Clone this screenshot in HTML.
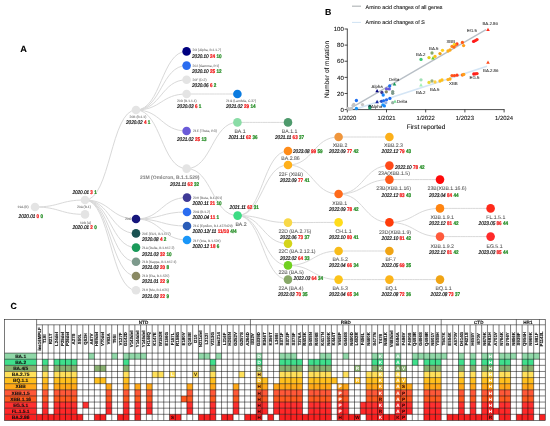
<!DOCTYPE html>
<html lang="en"><head><meta charset="utf-8"><title>SARS-CoV-2 variant evolution</title>
<style>
html,body{margin:0;padding:0;background:#fff;}
body{width:550px;height:426px;overflow:hidden;}
svg{display:block;font-family:"Liberation Sans", Arial, sans-serif;text-rendering:geometricPrecision;}
</style></head><body>
<svg width="550" height="426" viewBox="0 0 550 426" stroke-width="0.08">
<rect width="550" height="426" fill="#fff"/>
<g fill="none" stroke="#d9d9d9" stroke-width="1.0">
<path d="M35,207C60.0,207 60.0,200 85,200"/>
<path d="M35,207C60.0,207 60.0,214.4 85,214.4"/>
<path d="M85,200C110.5,200 110.5,110 136,110"/>
<path d="M85,200C110.5,200 110.5,219 136,219"/>
<path d="M85,200C110.5,200 110.5,233.4 136,233.4"/>
<path d="M85,200C110.5,200 110.5,247.6 136,247.6"/>
<path d="M85,200C110.5,200 110.5,261.8 136,261.8"/>
<path d="M85,200C110.5,200 110.5,276 136,276"/>
<path d="M85,200C110.5,200 110.5,290.3 136,290.3"/>
<path d="M136,110C161.3,110 161.3,51.4 186.6,51.4"/>
<path d="M136,110C161.3,110 161.3,65.6 186.6,65.6"/>
<path d="M136,110C161.3,110 161.3,79.8 186.6,79.8"/>
<path d="M136,110C161.3,110 161.3,94 186.6,94"/>
<path d="M136,110C161.3,110 161.3,131 186.6,131"/>
<path d="M136,110C161.3,110 161.3,168.6 186.6,168.6"/>
<path d="M186.6,94C212.0,94 212.0,94 237.4,94"/>
<path d="M136,219C161.5,219 161.5,197.6 187,197.6"/>
<path d="M136,219C161.5,219 161.5,212 187,212"/>
<path d="M136,219C161.5,219 161.5,226 187,226"/>
<path d="M136,219C161.5,219 161.5,240 187,240"/>
<path d="M186.6,168.6C212.0,168.6 212.0,122.4 237.4,122.4"/>
<path d="M186.6,168.6C212.1,168.6 212.1,215.6 237.6,215.6"/>
<path d="M237.4,122.4C262.7,122.4 262.7,122.4 288,122.4"/>
<path d="M237.6,215.6C262.8,215.6 262.8,151 288,151"/>
<path d="M237.6,215.6C262.8,215.6 262.8,165 288,165"/>
<path d="M237.6,215.6C262.8,215.6 262.8,222.6 288,222.6"/>
<path d="M237.6,215.6C262.8,215.6 262.8,243.6 288,243.6"/>
<path d="M237.6,215.6C262.8,215.6 262.8,265.4 288,265.4"/>
<path d="M237.6,215.6C262.8,215.6 262.8,279.6 288,279.6"/>
<path d="M288,165C313.3,165 313.3,137 338.6,137"/>
<path d="M288,165C313.3,165 313.3,194 338.6,194"/>
<path d="M338.6,137C364.0,137 364.0,137 389.4,137"/>
<path d="M338.6,194C364.0,194 364.0,165.6 389.4,165.6"/>
<path d="M338.6,194C364.0,194 364.0,179.6 389.4,179.6"/>
<path d="M338.6,194C364.0,194 364.0,222.4 389.4,222.4"/>
<path d="M389.4,179.6C414.7,179.6 414.7,179.6 440,179.6"/>
<path d="M389.4,222.4C414.7,222.4 414.7,208.4 440,208.4"/>
<path d="M389.4,222.4C414.7,222.4 414.7,236.6 440,236.6"/>
<path d="M440,208.4C465.3,208.4 465.3,208.4 490.6,208.4"/>
<path d="M440,236.6C465.3,236.6 465.3,236.6 490.6,236.6"/>
<path d="M288,222.6C313.3,222.6 313.3,222.4 338.6,222.4"/>
<path d="M288,265.4C313.3,265.4 313.3,251 338.6,251"/>
<path d="M288,265.4C313.3,265.4 313.3,279.6 338.6,279.6"/>
<path d="M338.6,251C364.0,251 364.0,251 389.4,251"/>
<path d="M338.6,279.6C364.0,279.6 364.0,279.6 389.4,279.6"/>
<path d="M389.4,279.6C414.7,279.6 414.7,279.6 440,279.6"/>
</g>
<g>
<circle cx="35" cy="207" r="4.3" fill="#e4e4e4"/>
<circle cx="85" cy="200" r="4.3" fill="#e4e4e4"/>
<circle cx="85" cy="214.4" r="4.3" fill="#e4e4e4"/>
<circle cx="136" cy="110" r="4.3" fill="#e4e4e4"/>
<circle cx="186.6" cy="51.4" r="4.3" fill="#00007f"/>
<circle cx="186.6" cy="65.6" r="4.3" fill="#2a6cf0"/>
<circle cx="186.6" cy="79.8" r="4.3" fill="#e4e4e4"/>
<circle cx="186.6" cy="94" r="4.3" fill="#e4e4e4"/>
<circle cx="237.4" cy="94" r="4.3" fill="#0a7be0"/>
<circle cx="186.6" cy="131" r="4.3" fill="#6a5ad8"/>
<circle cx="186.6" cy="168.6" r="4.3" fill="#e4e4e4"/>
<circle cx="136" cy="219" r="4.3" fill="#16167c"/>
<circle cx="136" cy="233.4" r="4.3" fill="#1a5252"/>
<circle cx="136" cy="247.6" r="4.3" fill="#1a9a5a"/>
<circle cx="136" cy="261.8" r="4.3" fill="#7d9a8c"/>
<circle cx="136" cy="276" r="4.3" fill="#8a8a64"/>
<circle cx="136" cy="290.3" r="4.3" fill="#e4e4e4"/>
<circle cx="187" cy="197.6" r="4.3" fill="#3f3a96"/>
<circle cx="187" cy="212" r="4.3" fill="#2a6cf0"/>
<circle cx="187" cy="226" r="4.3" fill="#2a5cb8"/>
<circle cx="187" cy="240" r="4.3" fill="#1a96f8"/>
<circle cx="237.4" cy="122.4" r="4.3" fill="#8adca6"/>
<circle cx="288" cy="122.4" r="4.3" fill="#4e9a6c"/>
<circle cx="237.6" cy="215.6" r="4.3" fill="#3ddc84"/>
<circle cx="288" cy="151" r="4.3" fill="#ff8c1a"/>
<circle cx="288" cy="165" r="4.3" fill="#ffb01a"/>
<circle cx="288" cy="222.6" r="4.3" fill="#f8d848"/>
<circle cx="288" cy="243.6" r="4.3" fill="#d4d41a"/>
<circle cx="288" cy="265.4" r="4.3" fill="#70d020"/>
<circle cx="288" cy="279.6" r="4.3" fill="#88a868"/>
<circle cx="338.6" cy="137" r="4.3" fill="#f0963c"/>
<circle cx="389.4" cy="137" r="4.3" fill="#fcb01a"/>
<circle cx="338.6" cy="194" r="4.3" fill="#ff6a1a"/>
<circle cx="389.4" cy="165.6" r="4.3" fill="#ff4a1a"/>
<circle cx="389.4" cy="179.6" r="4.3" fill="#ff5a1a"/>
<circle cx="440" cy="179.6" r="4.3" fill="#ff0a0a"/>
<circle cx="389.4" cy="222.4" r="4.3" fill="#ff3c0a"/>
<circle cx="440" cy="208.4" r="4.3" fill="#ff8410"/>
<circle cx="490.6" cy="208.4" r="4.3" fill="#ff2a1a"/>
<circle cx="440" cy="236.6" r="4.3" fill="#ff5a3c"/>
<circle cx="490.6" cy="236.6" r="4.3" fill="#ff2a2a"/>
<circle cx="338.6" cy="222.4" r="4.3" fill="#ffdc1a"/>
<circle cx="338.6" cy="251" r="4.3" fill="#f8bc1a"/>
<circle cx="389.4" cy="251" r="4.3" fill="#f0a414"/>
<circle cx="338.6" cy="279.6" r="4.3" fill="#fcc41a"/>
<circle cx="389.4" cy="279.6" r="4.3" fill="#fcb41a"/>
<circle cx="440" cy="279.6" r="4.3" fill="#f0a414"/>
</g>
<text x="17.6" y="208.15" font-size="3.3" fill="#7a7a7a" stroke="#7a7a7a" text-anchor="start">19A (B)</text>
<text transform="translate(18.6,217.90) scale(0.87,1)" font-size="5.3" fill="#111" stroke="#111" stroke-width="0.22"><tspan font-style="italic">2020.01</tspan> <tspan font-weight="bold" fill="#f01414" stroke="#f01414">0</tspan> <tspan font-weight="bold" fill="#1f8a1f" stroke="#1f8a1f">0</tspan></text>
<text transform="translate(72.4,193.90) scale(0.87,1)" font-size="5.3" fill="#111" stroke="#111" stroke-width="0.22"><tspan font-style="italic">2020.01</tspan> <tspan font-weight="bold" fill="#f01414" stroke="#f01414">3</tspan> <tspan font-weight="bold" fill="#1f8a1f" stroke="#1f8a1f">1</tspan></text>
<text x="77" y="208.15" font-size="3.3" fill="#7a7a7a" stroke="#7a7a7a" text-anchor="start">20A (B.1)</text>
<text x="80" y="223.55" font-size="3.3" fill="#7a7a7a" stroke="#7a7a7a" text-anchor="start">19B (A)</text>
<text transform="translate(72.4,228.90) scale(0.87,1)" font-size="5.3" fill="#111" stroke="#111" stroke-width="0.22"><tspan font-style="italic">2020.01</tspan> <tspan font-weight="bold" fill="#f01414" stroke="#f01414">2</tspan> <tspan font-weight="bold" fill="#1f8a1f" stroke="#1f8a1f">0</tspan></text>
<text x="129.6" y="117.75" font-size="3.3" fill="#7a7a7a" stroke="#7a7a7a" text-anchor="start">20B (B.1.1)</text>
<text transform="translate(126,123.50) scale(0.87,1)" font-size="5.3" fill="#111" stroke="#111" stroke-width="0.22"><tspan font-style="italic">2020.02</tspan> <tspan font-weight="bold" fill="#f01414" stroke="#f01414">4</tspan> <tspan font-weight="bold" fill="#1f8a1f" stroke="#1f8a1f">1</tspan></text>
<text x="192.6" y="51.15" font-size="3.3" fill="#7a7a7a" stroke="#7a7a7a" text-anchor="start">20I (Alpha, B.1.1.7)</text>
<text transform="translate(192,57.50) scale(0.87,1)" font-size="5.3" fill="#111" stroke="#111" stroke-width="0.22"><tspan font-style="italic">2020.10</tspan> <tspan font-weight="bold" fill="#f01414" stroke="#f01414">24</tspan> <tspan font-weight="bold" fill="#1f8a1f" stroke="#1f8a1f">10</tspan></text>
<text x="192.6" y="66.75" font-size="3.3" fill="#7a7a7a" stroke="#7a7a7a" text-anchor="start">20J (Gamma, P.1)</text>
<text transform="translate(192,72.90) scale(0.87,1)" font-size="5.3" fill="#111" stroke="#111" stroke-width="0.22"><tspan font-style="italic">2020.10</tspan> <tspan font-weight="bold" fill="#f01414" stroke="#f01414">25</tspan> <tspan font-weight="bold" fill="#1f8a1f" stroke="#1f8a1f">12</tspan></text>
<text x="192.6" y="80.75" font-size="3.3" fill="#7a7a7a" stroke="#7a7a7a" text-anchor="start">20F (D.2)</text>
<text transform="translate(192,86.50) scale(0.87,1)" font-size="5.3" fill="#111" stroke="#111" stroke-width="0.22"><tspan font-style="italic">2020.06</tspan> <tspan font-weight="bold" fill="#f01414" stroke="#f01414">6</tspan> <tspan font-weight="bold" fill="#1f8a1f" stroke="#1f8a1f">2</tspan></text>
<text x="177" y="101.75" font-size="3.3" fill="#7a7a7a" stroke="#7a7a7a" text-anchor="start">20D (B.1.1.1)</text>
<text transform="translate(177,107.50) scale(0.87,1)" font-size="5.3" fill="#111" stroke="#111" stroke-width="0.22"><tspan font-style="italic">2020.03</tspan> <tspan font-weight="bold" fill="#f01414" stroke="#f01414">6</tspan> <tspan font-weight="bold" fill="#1f8a1f" stroke="#1f8a1f">1</tspan></text>
<text x="226" y="101.75" font-size="3.3" fill="#7a7a7a" stroke="#7a7a7a" text-anchor="start">21G (Lambda, C.37)</text>
<text transform="translate(226,107.50) scale(0.87,1)" font-size="5.3" fill="#111" stroke="#111" stroke-width="0.22"><tspan font-style="italic">2021.02</tspan> <tspan font-weight="bold" fill="#f01414" stroke="#f01414">29</tspan> <tspan font-weight="bold" fill="#1f8a1f" stroke="#1f8a1f">14</tspan></text>
<text x="193" y="132.15" font-size="3.3" fill="#7a7a7a" stroke="#7a7a7a" text-anchor="start">21E (Theta, P.3)</text>
<text transform="translate(177,141.30) scale(0.87,1)" font-size="5.3" fill="#111" stroke="#111" stroke-width="0.22"><tspan font-style="italic">2021.02</tspan> <tspan font-weight="bold" fill="#f01414" stroke="#f01414">25</tspan> <tspan font-weight="bold" fill="#1f8a1f" stroke="#1f8a1f">13</tspan></text>
<text x="140" y="178.85" font-size="5.0" font-weight="bold" fill="#8a8a8a" stroke="#8a8a8a" text-anchor="start">21M (Omicron, B.1.1.529)</text>
<text transform="translate(170,185.50) scale(0.87,1)" font-size="5.3" fill="#111" stroke="#111" stroke-width="0.22"><tspan font-style="italic">2021.11</tspan> <tspan font-weight="bold" fill="#f01414" stroke="#f01414">62</tspan> <tspan font-weight="bold" fill="#1f8a1f" stroke="#1f8a1f">32</tspan></text>
<text x="125" y="220.15" font-size="3.3" fill="#7a7a7a" stroke="#7a7a7a" text-anchor="start">20C</text>
<text x="142" y="234.75" font-size="3.3" fill="#7a7a7a" stroke="#7a7a7a" text-anchor="start">20E (EU1, B.1.177)</text>
<text transform="translate(142,240.50) scale(0.87,1)" font-size="5.3" fill="#111" stroke="#111" stroke-width="0.22"><tspan font-style="italic">2020.08</tspan> <tspan font-weight="bold" fill="#f01414" stroke="#f01414">4</tspan> <tspan font-weight="bold" fill="#1f8a1f" stroke="#1f8a1f">2</tspan></text>
<text x="142" y="249.15" font-size="3.3" fill="#7a7a7a" stroke="#7a7a7a" text-anchor="start">21A (Delta, B.1.617.2)</text>
<text transform="translate(142,255.90) scale(0.87,1)" font-size="5.3" fill="#111" stroke="#111" stroke-width="0.22"><tspan font-style="italic">2021.03</tspan> <tspan font-weight="bold" fill="#f01414" stroke="#f01414">32</tspan> <tspan font-weight="bold" fill="#1f8a1f" stroke="#1f8a1f">10</tspan></text>
<text x="142" y="263.15" font-size="3.3" fill="#7a7a7a" stroke="#7a7a7a" text-anchor="start">21B (Kappa, B.1.617.1)</text>
<text transform="translate(142,269.30) scale(0.87,1)" font-size="5.3" fill="#111" stroke="#111" stroke-width="0.22"><tspan font-style="italic">2021.03</tspan> <tspan font-weight="bold" fill="#f01414" stroke="#f01414">20</tspan> <tspan font-weight="bold" fill="#1f8a1f" stroke="#1f8a1f">8</tspan></text>
<text x="142" y="277.15" font-size="3.3" fill="#7a7a7a" stroke="#7a7a7a" text-anchor="start">21D (Eta, B.1.525)</text>
<text transform="translate(142,283.30) scale(0.87,1)" font-size="5.3" fill="#111" stroke="#111" stroke-width="0.22"><tspan font-style="italic">2021.01</tspan> <tspan font-weight="bold" fill="#f01414" stroke="#f01414">22</tspan> <tspan font-weight="bold" fill="#1f8a1f" stroke="#1f8a1f">9</tspan></text>
<text x="142" y="291.15" font-size="3.3" fill="#7a7a7a" stroke="#7a7a7a" text-anchor="start">21H (Mu, B.1.621)</text>
<text transform="translate(142,297.50) scale(0.87,1)" font-size="5.3" fill="#111" stroke="#111" stroke-width="0.22"><tspan font-style="italic">2021.03</tspan> <tspan font-weight="bold" fill="#f01414" stroke="#f01414">22</tspan> <tspan font-weight="bold" fill="#1f8a1f" stroke="#1f8a1f">9</tspan></text>
<text x="193" y="199.15" font-size="3.3" fill="#7a7a7a" stroke="#7a7a7a" text-anchor="start">20H (Beta, B.1.351)</text>
<text transform="translate(192.4,204.90) scale(0.87,1)" font-size="5.3" fill="#111" stroke="#111" stroke-width="0.22"><tspan font-style="italic">2020.11</tspan> <tspan font-weight="bold" fill="#f01414" stroke="#f01414">21</tspan> <tspan font-weight="bold" fill="#1f8a1f" stroke="#1f8a1f">10</tspan></text>
<text x="193" y="213.15" font-size="3.3" fill="#7a7a7a" stroke="#7a7a7a" text-anchor="start">20G (B.1.2)</text>
<text transform="translate(192.4,219.30) scale(0.87,1)" font-size="5.3" fill="#111" stroke="#111" stroke-width="0.22"><tspan font-style="italic">2020.04</tspan> <tspan font-weight="bold" fill="#f01414" stroke="#f01414">11</tspan> <tspan font-weight="bold" fill="#1f8a1f" stroke="#1f8a1f">1</tspan></text>
<text x="193" y="227.15" font-size="3.3" fill="#7a7a7a" stroke="#7a7a7a" text-anchor="start">21C (Epsilon, B.1.427/429)</text>
<text transform="translate(192.4,233.30) scale(0.87,1)" font-size="5.3" fill="#111" stroke="#111" stroke-width="0.22"><tspan font-style="italic">2020.12/ 11</tspan> <tspan font-weight="bold" fill="#f01414" stroke="#f01414">11/10</tspan> <tspan font-weight="bold" fill="#1f8a1f" stroke="#1f8a1f">4/4</tspan></text>
<text x="193" y="241.55" font-size="3.3" fill="#7a7a7a" stroke="#7a7a7a" text-anchor="start">21F (Iota, B.1.526)</text>
<text transform="translate(192.4,247.90) scale(0.87,1)" font-size="5.3" fill="#111" stroke="#111" stroke-width="0.22"><tspan font-style="italic">2020.12</tspan> <tspan font-weight="bold" fill="#f01414" stroke="#f01414">18</tspan> <tspan font-weight="bold" fill="#1f8a1f" stroke="#1f8a1f">6</tspan></text>
<text x="240" y="132.85" font-size="5.2" font-weight="normal" fill="#5a5a5a" stroke="#5a5a5a" text-anchor="middle">BA.1</text>
<text transform="translate(228.4,138.50) scale(0.87,1)" font-size="5.3" fill="#111" stroke="#111" stroke-width="0.22"><tspan font-style="italic">2021.11</tspan> <tspan font-weight="bold" fill="#f01414" stroke="#f01414">62</tspan> <tspan font-weight="bold" fill="#1f8a1f" stroke="#1f8a1f">36</tspan></text>
<text x="289.6" y="132.85" font-size="5.2" font-weight="normal" fill="#5a5a5a" stroke="#5a5a5a" text-anchor="middle">BA.1.1</text>
<text transform="translate(275,138.50) scale(0.87,1)" font-size="5.3" fill="#111" stroke="#111" stroke-width="0.22"><tspan font-style="italic">2021.11</tspan> <tspan font-weight="bold" fill="#f01414" stroke="#f01414">63</tspan> <tspan font-weight="bold" fill="#1f8a1f" stroke="#1f8a1f">37</tspan></text>
<text transform="translate(293,152.90) scale(0.87,1)" font-size="5.3" fill="#111" stroke="#111" stroke-width="0.22"><tspan font-style="italic">2023.08</tspan> <tspan font-weight="bold" fill="#f01414" stroke="#f01414">99</tspan> <tspan font-weight="bold" fill="#1f8a1f" stroke="#1f8a1f">59</tspan></text>
<text x="290.5" y="160.25" font-size="5.2" font-weight="normal" fill="#5a5a5a" stroke="#5a5a5a" text-anchor="middle">BA.2.86</text>
<text x="290.8" y="175.85" font-size="5.2" font-weight="normal" fill="#5a5a5a" stroke="#5a5a5a" text-anchor="middle">22F (XBB)</text>
<text transform="translate(280,181.50) scale(0.87,1)" font-size="5.3" fill="#111" stroke="#111" stroke-width="0.22"><tspan font-style="italic">2022.09</tspan> <tspan font-weight="bold" fill="#f01414" stroke="#f01414">77</tspan> <tspan font-weight="bold" fill="#1f8a1f" stroke="#1f8a1f">41</tspan></text>
<text transform="translate(229.6,208.50) scale(0.87,1)" font-size="5.3" fill="#111" stroke="#111" stroke-width="0.22"><tspan font-style="italic">2021.11</tspan> <tspan font-weight="bold" fill="#f01414" stroke="#f01414">62</tspan> <tspan font-weight="bold" fill="#1f8a1f" stroke="#1f8a1f">31</tspan></text>
<text x="241" y="226.25" font-size="5.2" font-weight="normal" fill="#5a5a5a" stroke="#5a5a5a" text-anchor="middle">BA.2</text>
<text x="278.4" y="232.85" font-size="5.2" font-weight="normal" fill="#5a5a5a" stroke="#5a5a5a" text-anchor="start">22D (BA.2.75)</text>
<text transform="translate(280,238.50) scale(0.87,1)" font-size="5.3" fill="#111" stroke="#111" stroke-width="0.22"><tspan font-style="italic">2022.06</tspan> <tspan font-weight="bold" fill="#f01414" stroke="#f01414">73</tspan> <tspan font-weight="bold" fill="#1f8a1f" stroke="#1f8a1f">37</tspan></text>
<text x="278.4" y="253.45" font-size="5.2" font-weight="normal" fill="#5a5a5a" stroke="#5a5a5a" text-anchor="start">22C (BA.2.12.1)</text>
<text transform="translate(280,259.50) scale(0.87,1)" font-size="5.3" fill="#111" stroke="#111" stroke-width="0.22"><tspan font-style="italic">2022.02</tspan> <tspan font-weight="bold" fill="#f01414" stroke="#f01414">64</tspan> <tspan font-weight="bold" fill="#1f8a1f" stroke="#1f8a1f">33</tspan></text>
<text x="278.4" y="274.25" font-size="5.2" font-weight="normal" fill="#5a5a5a" stroke="#5a5a5a" text-anchor="start">22B (BA.5)</text>
<text transform="translate(293.6,279.90) scale(0.87,1)" font-size="5.3" fill="#111" stroke="#111" stroke-width="0.22"><tspan font-style="italic">2022.03</tspan> <tspan font-weight="bold" fill="#f01414" stroke="#f01414">64</tspan> <tspan font-weight="bold" fill="#1f8a1f" stroke="#1f8a1f">34</tspan></text>
<text x="278.4" y="290.25" font-size="5.2" font-weight="normal" fill="#5a5a5a" stroke="#5a5a5a" text-anchor="start">22A (BA.4)</text>
<text transform="translate(278,295.90) scale(0.87,1)" font-size="5.3" fill="#111" stroke="#111" stroke-width="0.22"><tspan font-style="italic">2022.03</tspan> <tspan font-weight="bold" fill="#f01414" stroke="#f01414">70</tspan> <tspan font-weight="bold" fill="#1f8a1f" stroke="#1f8a1f">35</tspan></text>
<text x="340" y="147.45" font-size="5.2" font-weight="normal" fill="#5a5a5a" stroke="#5a5a5a" text-anchor="middle">XBB.2</text>
<text transform="translate(329,152.90) scale(0.87,1)" font-size="5.3" fill="#111" stroke="#111" stroke-width="0.22"><tspan font-style="italic">2022.09</tspan> <tspan font-weight="bold" fill="#f01414" stroke="#f01414">77</tspan> <tspan font-weight="bold" fill="#1f8a1f" stroke="#1f8a1f">42</tspan></text>
<text x="393.5" y="147.45" font-size="5.2" font-weight="normal" fill="#5a5a5a" stroke="#5a5a5a" text-anchor="middle">XBB.2.3</text>
<text transform="translate(381.6,152.90) scale(0.87,1)" font-size="5.3" fill="#111" stroke="#111" stroke-width="0.22"><tspan font-style="italic">2022.12</tspan> <tspan font-weight="bold" fill="#f01414" stroke="#f01414">79</tspan> <tspan font-weight="bold" fill="#1f8a1f" stroke="#1f8a1f">43</tspan></text>
<text transform="translate(395,168.50) scale(0.87,1)" font-size="5.3" fill="#111" stroke="#111" stroke-width="0.22"><tspan font-style="italic">2022.10</tspan> <tspan font-weight="bold" fill="#f01414" stroke="#f01414">78</tspan> <tspan font-weight="bold" fill="#1f8a1f" stroke="#1f8a1f">42</tspan></text>
<text x="394" y="174.85" font-size="5.2" font-weight="normal" fill="#5a5a5a" stroke="#5a5a5a" text-anchor="middle">23A(XBB.1.5)</text>
<text x="393.6" y="190.45" font-size="5.2" font-weight="normal" fill="#5a5a5a" stroke="#5a5a5a" text-anchor="middle">23B(XBB.1.16)</text>
<text transform="translate(381.6,196.90) scale(0.87,1)" font-size="5.3" fill="#111" stroke="#111" stroke-width="0.22"><tspan font-style="italic">2022.12</tspan> <tspan font-weight="bold" fill="#f01414" stroke="#f01414">83</tspan> <tspan font-weight="bold" fill="#1f8a1f" stroke="#1f8a1f">43</tspan></text>
<text x="447" y="190.45" font-size="5.2" font-weight="normal" fill="#5a5a5a" stroke="#5a5a5a" text-anchor="middle">23B(XBB.1.16.6)</text>
<text transform="translate(429,196.90) scale(0.87,1)" font-size="5.3" fill="#111" stroke="#111" stroke-width="0.22"><tspan font-style="italic">2023.04</tspan> <tspan font-weight="bold" fill="#f01414" stroke="#f01414">84</tspan> <tspan font-weight="bold" fill="#1f8a1f" stroke="#1f8a1f">44</tspan></text>
<text x="339.7" y="204.85" font-size="5.2" font-weight="normal" fill="#5a5a5a" stroke="#5a5a5a" text-anchor="middle">XBB.1</text>
<text transform="translate(329,210.90) scale(0.87,1)" font-size="5.3" fill="#111" stroke="#111" stroke-width="0.22"><tspan font-style="italic">2022.09</tspan> <tspan font-weight="bold" fill="#f01414" stroke="#f01414">78</tspan> <tspan font-weight="bold" fill="#1f8a1f" stroke="#1f8a1f">42</tspan></text>
<text x="343.5" y="232.85" font-size="5.2" font-weight="normal" fill="#5a5a5a" stroke="#5a5a5a" text-anchor="middle">CH.1.1</text>
<text transform="translate(329,238.50) scale(0.87,1)" font-size="5.3" fill="#111" stroke="#111" stroke-width="0.22"><tspan font-style="italic">2022.10</tspan> <tspan font-weight="bold" fill="#f01414" stroke="#f01414">80</tspan> <tspan font-weight="bold" fill="#1f8a1f" stroke="#1f8a1f">41</tspan></text>
<text x="395" y="233.85" font-size="5.2" font-weight="normal" fill="#5a5a5a" stroke="#5a5a5a" text-anchor="middle">23D(XBB.1.9)</text>
<text transform="translate(381.6,239.50) scale(0.87,1)" font-size="5.3" fill="#111" stroke="#111" stroke-width="0.22"><tspan font-style="italic">2022.10</tspan> <tspan font-weight="bold" fill="#f01414" stroke="#f01414">81</tspan> <tspan font-weight="bold" fill="#1f8a1f" stroke="#1f8a1f">42</tspan></text>
<text x="442.3" y="219.45" font-size="5.2" font-weight="normal" fill="#5a5a5a" stroke="#5a5a5a" text-anchor="middle">XBB.1.9.1</text>
<text transform="translate(429,224.90) scale(0.87,1)" font-size="5.3" fill="#111" stroke="#111" stroke-width="0.22"><tspan font-style="italic">2022.12</tspan> <tspan font-weight="bold" fill="#f01414" stroke="#f01414">81</tspan> <tspan font-weight="bold" fill="#1f8a1f" stroke="#1f8a1f">42</tspan></text>
<text x="495.8" y="219.45" font-size="5.2" font-weight="normal" fill="#5a5a5a" stroke="#5a5a5a" text-anchor="middle">FL.1.5.1</text>
<text transform="translate(478.6,224.90) scale(0.87,1)" font-size="5.3" fill="#111" stroke="#111" stroke-width="0.22"><tspan font-style="italic">2023.05</tspan> <tspan font-weight="bold" fill="#f01414" stroke="#f01414">86</tspan> <tspan font-weight="bold" fill="#1f8a1f" stroke="#1f8a1f">44</tspan></text>
<text x="442.3" y="247.85" font-size="5.2" font-weight="normal" fill="#5a5a5a" stroke="#5a5a5a" text-anchor="middle">XBB.1.9.2</text>
<text transform="translate(429,253.90) scale(0.87,1)" font-size="5.3" fill="#111" stroke="#111" stroke-width="0.22"><tspan font-style="italic">2022.12</tspan> <tspan font-weight="bold" fill="#f01414" stroke="#f01414">81</tspan> <tspan font-weight="bold" fill="#1f8a1f" stroke="#1f8a1f">42</tspan></text>
<text x="494.5" y="247.85" font-size="5.2" font-weight="normal" fill="#5a5a5a" stroke="#5a5a5a" text-anchor="middle">EG.5.1</text>
<text transform="translate(478.6,254.30) scale(0.87,1)" font-size="5.3" fill="#111" stroke="#111" stroke-width="0.22"><tspan font-style="italic">2023.03</tspan> <tspan font-weight="bold" fill="#f01414" stroke="#f01414">85</tspan> <tspan font-weight="bold" fill="#1f8a1f" stroke="#1f8a1f">44</tspan></text>
<text x="340.2" y="261.45000000000005" font-size="5.2" font-weight="normal" fill="#5a5a5a" stroke="#5a5a5a" text-anchor="middle">BA.5.2</text>
<text transform="translate(329,266.90) scale(0.87,1)" font-size="5.3" fill="#111" stroke="#111" stroke-width="0.22"><tspan font-style="italic">2022.04</tspan> <tspan font-weight="bold" fill="#f01414" stroke="#f01414">66</tspan> <tspan font-weight="bold" fill="#1f8a1f" stroke="#1f8a1f">34</tspan></text>
<text x="390.8" y="261.45000000000005" font-size="5.2" font-weight="normal" fill="#5a5a5a" stroke="#5a5a5a" text-anchor="middle">BF.7</text>
<text transform="translate(381.6,266.90) scale(0.87,1)" font-size="5.3" fill="#111" stroke="#111" stroke-width="0.22"><tspan font-style="italic">2022.05</tspan> <tspan font-weight="bold" fill="#f01414" stroke="#f01414">69</tspan> <tspan font-weight="bold" fill="#1f8a1f" stroke="#1f8a1f">35</tspan></text>
<text x="340.2" y="290.25" font-size="5.2" font-weight="normal" fill="#5a5a5a" stroke="#5a5a5a" text-anchor="middle">BA.5.3</text>
<text transform="translate(329,295.90) scale(0.87,1)" font-size="5.3" fill="#111" stroke="#111" stroke-width="0.22"><tspan font-style="italic">2022.04</tspan> <tspan font-weight="bold" fill="#f01414" stroke="#f01414">65</tspan> <tspan font-weight="bold" fill="#1f8a1f" stroke="#1f8a1f">34</tspan></text>
<text x="391.3" y="290.25" font-size="5.2" font-weight="normal" fill="#5a5a5a" stroke="#5a5a5a" text-anchor="middle">BQ.1</text>
<text transform="translate(381.6,295.90) scale(0.87,1)" font-size="5.3" fill="#111" stroke="#111" stroke-width="0.22"><tspan font-style="italic">2022.08</tspan> <tspan font-weight="bold" fill="#f01414" stroke="#f01414">72</tspan> <tspan font-weight="bold" fill="#1f8a1f" stroke="#1f8a1f">36</tspan></text>
<text x="443.6" y="290.25" font-size="5.2" font-weight="normal" fill="#5a5a5a" stroke="#5a5a5a" text-anchor="middle">BQ.1.1</text>
<text transform="translate(430.6,295.90) scale(0.87,1)" font-size="5.3" fill="#111" stroke="#111" stroke-width="0.22"><tspan font-style="italic">2022.08</tspan> <tspan font-weight="bold" fill="#f01414" stroke="#f01414">73</tspan> <tspan font-weight="bold" fill="#1f8a1f" stroke="#1f8a1f">37</tspan></text>
<text x="20.2" y="52.4" font-size="9.2" font-weight="bold" fill="#000" stroke="#000">A</text>
<text x="325" y="15.1" font-size="8.8" font-weight="bold" fill="#000" stroke="#000">B</text>
<text x="10.5" y="308.6" font-size="8.8" font-weight="bold" fill="#000" stroke="#000">C</text>
<line x1="352" y1="6.2" x2="361" y2="6.2" stroke="#b4b8ba" stroke-width="1.2"/>
<line x1="352" y1="22.4" x2="361" y2="22.4" stroke="#cfe2f3" stroke-width="1.0"/>
<text x="365.6" y="8.55" font-size="5.35" fill="#111" stroke="#111">Amino acid changes of all genes</text>
<text x="365.6" y="24.25" font-size="5.35" fill="#111" stroke="#111">Amino acid changes of S</text>
<line x1="348.6" y1="109.4" x2="486" y2="29.7" stroke="#b8bfc6" stroke-width="1.35"/>
<line x1="354.5" y1="109.4" x2="487" y2="66.3" stroke="#d4e5f5" stroke-width="1.6"/>
<path d="M347.3,28.6V109.6H504.6" fill="none" stroke="#111" stroke-width="0.75"/>
<line x1="344.6" x2="347.3" y1="109.60" y2="109.60" stroke="#111" stroke-width="0.75"/>
<text x="343.8" y="111.75" font-size="6.0" text-anchor="end" fill="#111" stroke="#111">0</text>
<line x1="344.6" x2="347.3" y1="93.48" y2="93.48" stroke="#111" stroke-width="0.75"/>
<text x="343.8" y="95.63" font-size="6.0" text-anchor="end" fill="#111" stroke="#111">20</text>
<line x1="344.6" x2="347.3" y1="77.36" y2="77.36" stroke="#111" stroke-width="0.75"/>
<text x="343.8" y="79.51" font-size="6.0" text-anchor="end" fill="#111" stroke="#111">40</text>
<line x1="344.6" x2="347.3" y1="61.24" y2="61.24" stroke="#111" stroke-width="0.75"/>
<text x="343.8" y="63.39" font-size="6.0" text-anchor="end" fill="#111" stroke="#111">60</text>
<line x1="344.6" x2="347.3" y1="45.12" y2="45.12" stroke="#111" stroke-width="0.75"/>
<text x="343.8" y="47.27" font-size="6.0" text-anchor="end" fill="#111" stroke="#111">80</text>
<line x1="344.6" x2="347.3" y1="29.00" y2="29.00" stroke="#111" stroke-width="0.75"/>
<text x="343.8" y="31.15" font-size="6.0" text-anchor="end" fill="#111" stroke="#111">100</text>
<line x1="347.30" x2="347.30" y1="109.6" y2="112.4" stroke="#111" stroke-width="0.75"/>
<text x="347.30" y="119.8" font-size="5.95" text-anchor="middle" fill="#111" stroke="#111">1/2020</text>
<line x1="386.50" x2="386.50" y1="109.6" y2="112.4" stroke="#111" stroke-width="0.75"/>
<text x="386.50" y="119.8" font-size="5.95" text-anchor="middle" fill="#111" stroke="#111">1/2021</text>
<line x1="425.70" x2="425.70" y1="109.6" y2="112.4" stroke="#111" stroke-width="0.75"/>
<text x="425.70" y="119.8" font-size="5.95" text-anchor="middle" fill="#111" stroke="#111">1/2022</text>
<line x1="464.90" x2="464.90" y1="109.6" y2="112.4" stroke="#111" stroke-width="0.75"/>
<text x="464.90" y="119.8" font-size="5.95" text-anchor="middle" fill="#111" stroke="#111">1/2023</text>
<line x1="504.10" x2="504.10" y1="109.6" y2="112.4" stroke="#111" stroke-width="0.75"/>
<text x="504.10" y="119.8" font-size="5.95" text-anchor="middle" fill="#111" stroke="#111">1/2024</text>
<text x="426" y="129.2" font-size="6.5" text-anchor="middle" fill="#111" stroke="#111">First reported</text>
<text transform="translate(329,69.5) rotate(-90)" font-size="6.5" text-anchor="middle" fill="#111" stroke="#111">Number of mutation</text>
<circle cx="348" cy="108.4" r="1.65" fill="#c4c4c4"/>
<circle cx="349.5" cy="109.2" r="1.65" fill="#c4c4c4"/>
<circle cx="353.1" cy="105.3" r="1.65" fill="#c4c4c4"/>
<circle cx="353.8" cy="104.4" r="1.65" fill="#c4c4c4"/>
<circle cx="362.5" cy="104.6" r="1.65" fill="#c4c4c4"/>
<circle cx="351.5" cy="108.6" r="1.65" fill="#c4c4c4"/>
<circle cx="356.4" cy="100.5" r="1.65" fill="#1a6cf0"/>
<circle cx="356.4" cy="108.5" r="1.65" fill="#1a96f8"/>
<circle cx="369.8" cy="106.4" r="1.65" fill="#1a5252"/>
<circle cx="369.8" cy="108.1" r="1.65" fill="#1a9a6a"/>
<path d="M377.1,88.89999999999999L378.90500000000003,92.225H375.295Z" fill="#00007f"/>
<circle cx="381.9" cy="92.5" r="1.65" fill="#3f3a96"/>
<circle cx="383.2" cy="95" r="1.65" fill="#1a86f8"/>
<circle cx="386.5" cy="88.9" r="1.65" fill="#6a5ad8"/>
<circle cx="389.3" cy="88.9" r="1.65" fill="#6a5ad8"/>
<circle cx="389.7" cy="86" r="1.65" fill="#1a6cf0"/>
<circle cx="386.3" cy="91.8" r="1.65" fill="#8a8a64"/>
<circle cx="392.7" cy="91.6" r="1.65" fill="#7d9a8c"/>
<circle cx="392.7" cy="93.3" r="1.65" fill="#7d9a8c"/>
<path d="M394.5,82.19999999999999L396.305,85.52499999999999H392.695Z" fill="#1a9a5a"/>
<path d="M377.1,99.8L378.90500000000003,103.125H375.295Z" fill="#1a2aa0"/>
<circle cx="381.5" cy="101.3" r="1.65" fill="#2a50c8"/>
<circle cx="383.6" cy="100.8" r="1.65" fill="#1a6cf0"/>
<circle cx="386.5" cy="99.8" r="1.65" fill="#2a6cf0"/>
<circle cx="389.9" cy="98.4" r="1.65" fill="#1a6cf0"/>
<circle cx="382.9" cy="104.9" r="1.65" fill="#1a96f8"/>
<circle cx="384.4" cy="105.9" r="1.65" fill="#1a86f8"/>
<circle cx="385.8" cy="102.7" r="1.65" fill="#9ab0e0"/>
<circle cx="392.7" cy="102.7" r="1.65" fill="#9ab0a6"/>
<path d="M395,99.39999999999999L396.805,102.725H393.195Z" fill="#7ddc9a"/>
<circle cx="421" cy="59.4" r="1.65" fill="#3dcc74"/>
<circle cx="429" cy="57.6" r="1.65" fill="#e0d020"/>
<circle cx="432" cy="53" r="1.65" fill="#88a868"/>
<path d="M433,56.1L434.805,59.425H431.195Z" fill="#70d020"/>
<circle cx="435" cy="56.4" r="1.65" fill="#ffc01a"/>
<circle cx="440" cy="53.6" r="1.65" fill="#f0a010"/>
<circle cx="448" cy="51" r="1.65" fill="#ffb01a"/>
<circle cx="450" cy="50" r="1.65" fill="#ffa81a"/>
<circle cx="452" cy="46.4" r="1.65" fill="#ff8c1a"/>
<circle cx="454" cy="47" r="1.65" fill="#ff6a1a"/>
<circle cx="457" cy="44" r="1.65" fill="#ff3c1a"/>
<circle cx="462.4" cy="42.4" r="1.65" fill="#ff5a1a"/>
<circle cx="463.6" cy="45.6" r="1.65" fill="#ffa01a"/>
<circle cx="455.5" cy="45" r="1.65" fill="#ff7a1a"/>
<circle cx="442.5" cy="50.3" r="1.65" fill="#ffd020"/>
<circle cx="454" cy="44.2" r="1.2" fill="#f4e020"/>
<circle cx="473.6" cy="41.4" r="1.65" fill="#ff1a1a"/>
<circle cx="475.4" cy="40.6" r="1.65" fill="#ff1a1a"/>
<circle cx="477" cy="39.6" r="1.65" fill="#ff2a1a"/>
<path d="M488,27.700000000000003L489.805,31.025000000000002H486.195Z" fill="#ff2a1a"/>
<circle cx="421" cy="79.8" r="1.65" fill="#9fe0b4"/>
<path d="M421,83.1L422.805,86.425H419.195Z" fill="#9ff0b4"/>
<circle cx="429" cy="82.4" r="1.65" fill="#e8d838"/>
<circle cx="432" cy="81" r="1.65" fill="#98b080"/>
<circle cx="435" cy="82" r="1.65" fill="#ffd040"/>
<circle cx="440" cy="81" r="1.65" fill="#ffc01a"/>
<circle cx="442" cy="80" r="1.65" fill="#ffc01a"/>
<circle cx="448" cy="79.6" r="1.65" fill="#ffb01a"/>
<circle cx="450" cy="79" r="1.65" fill="#ffb01a"/>
<circle cx="452" cy="75.6" r="1.65" fill="#ff5a1a"/>
<circle cx="454.4" cy="75.6" r="1.65" fill="#ff4a1a"/>
<circle cx="457" cy="75.2" r="1.65" fill="#ff3c1a"/>
<circle cx="462.4" cy="75" r="1.65" fill="#ff7a1a"/>
<circle cx="463.8" cy="74.4" r="1.65" fill="#ffa01a"/>
<circle cx="473.8" cy="74" r="1.65" fill="#ff1a1a"/>
<circle cx="475.4" cy="73.8" r="1.65" fill="#ff1a1a"/>
<circle cx="477" cy="73.6" r="1.65" fill="#ff2a1a"/>
<path d="M488,60.5L489.805,63.824999999999996H486.195Z" fill="#ff4a1a"/>
<text x="371.6" y="87.7" font-size="4.35" fill="#111" stroke="#111" stroke-width="0.03">Alpha</text>
<text x="389" y="80.9" font-size="4.35" fill="#111" stroke="#111" stroke-width="0.03">Delta</text>
<text x="371" y="107.9" font-size="4.35" fill="#111" stroke="#111" stroke-width="0.03">Alpha</text>
<text x="397" y="102.9" font-size="4.35" fill="#111" stroke="#111" stroke-width="0.03">Delta</text>
<text x="416" y="55.7" font-size="4.35" fill="#111" stroke="#111" stroke-width="0.03">BA.2</text>
<text x="429" y="50.3" font-size="4.35" fill="#111" stroke="#111" stroke-width="0.03">BA.5</text>
<text x="446.4" y="42.9" font-size="4.35" fill="#111" stroke="#111" stroke-width="0.03">XBB</text>
<text x="467" y="31.9" font-size="4.35" fill="#111" stroke="#111" stroke-width="0.03">EG.5</text>
<text x="482.4" y="24.9" font-size="4.35" fill="#111" stroke="#111" stroke-width="0.03">BA.2.86</text>
<text x="416" y="94.3" font-size="4.35" fill="#111" stroke="#111" stroke-width="0.03">BA.2</text>
<text x="430" y="90.9" font-size="4.35" fill="#111" stroke="#111" stroke-width="0.03">BA.5</text>
<text x="449" y="85.3" font-size="4.35" fill="#111" stroke="#111" stroke-width="0.03">XBB</text>
<text x="469.6" y="79.3" font-size="4.35" fill="#111" stroke="#111" stroke-width="0.03">EG.5</text>
<text x="483" y="71.7" font-size="4.35" fill="#111" stroke="#111" stroke-width="0.03">BA.2.86</text>
<g shape-rendering="auto">
<rect x="4.6" y="353.10" width="32.0" height="6.12" fill="#90d8a8"/>
<rect x="88.62" y="353.10" width="5.78" height="6.12" fill="#90d8a8"/>
<rect x="111.74" y="353.10" width="5.78" height="6.12" fill="#90d8a8"/>
<rect x="123.30" y="353.10" width="23.12" height="6.12" fill="#90d8a8"/>
<rect x="198.44" y="353.10" width="11.56" height="6.12" fill="#90d8a8"/>
<rect x="215.78" y="353.10" width="5.78" height="6.12" fill="#90d8a8"/>
<rect x="256.24" y="353.10" width="5.78" height="6.12" fill="#90d8a8"/>
<rect x="279.36" y="353.10" width="17.34" height="6.12" fill="#90d8a8"/>
<rect x="319.82" y="353.10" width="11.56" height="6.12" fill="#90d8a8"/>
<rect x="342.94" y="353.10" width="5.78" height="6.12" fill="#90d8a8"/>
<rect x="371.84" y="353.10" width="11.56" height="6.12" fill="#90d8a8"/>
<rect x="394.96" y="353.10" width="5.78" height="6.12" fill="#90d8a8"/>
<rect x="412.30" y="353.10" width="34.68" height="6.12" fill="#90d8a8"/>
<rect x="458.54" y="353.10" width="5.78" height="6.12" fill="#90d8a8"/>
<rect x="470.10" y="353.10" width="5.78" height="6.12" fill="#90d8a8"/>
<rect x="481.66" y="353.10" width="11.56" height="6.12" fill="#90d8a8"/>
<rect x="499.00" y="353.10" width="17.34" height="6.12" fill="#90d8a8"/>
<rect x="522.12" y="353.10" width="17.34" height="6.12" fill="#90d8a8"/>
<rect x="4.6" y="359.22" width="32.0" height="6.12" fill="#3fdf8c"/>
<rect x="42.38" y="359.22" width="5.78" height="6.12" fill="#3fdf8c"/>
<rect x="53.94" y="359.22" width="23.12" height="6.12" fill="#3fdf8c"/>
<rect x="123.30" y="359.22" width="5.78" height="6.12" fill="#3fdf8c"/>
<rect x="210.00" y="359.22" width="5.78" height="6.12" fill="#3fdf8c"/>
<rect x="256.24" y="359.22" width="5.78" height="6.12" fill="#3fdf8c"/>
<rect x="279.36" y="359.22" width="23.12" height="6.12" fill="#3fdf8c"/>
<rect x="308.26" y="359.22" width="23.12" height="6.12" fill="#3fdf8c"/>
<rect x="371.84" y="359.22" width="11.56" height="6.12" fill="#3fdf8c"/>
<rect x="394.96" y="359.22" width="5.78" height="6.12" fill="#3fdf8c"/>
<rect x="412.30" y="359.22" width="5.78" height="6.12" fill="#3fdf8c"/>
<rect x="423.86" y="359.22" width="17.34" height="6.12" fill="#3fdf8c"/>
<rect x="458.54" y="359.22" width="5.78" height="6.12" fill="#3fdf8c"/>
<rect x="470.10" y="359.22" width="5.78" height="6.12" fill="#3fdf8c"/>
<rect x="481.66" y="359.22" width="11.56" height="6.12" fill="#3fdf8c"/>
<rect x="499.00" y="359.22" width="11.56" height="6.12" fill="#3fdf8c"/>
<rect x="522.12" y="359.22" width="11.56" height="6.12" fill="#3fdf8c"/>
<rect x="4.6" y="365.34" width="32.0" height="6.12" fill="#88b070"/>
<rect x="42.38" y="365.34" width="5.78" height="6.12" fill="#88b070"/>
<rect x="53.94" y="365.34" width="23.12" height="6.12" fill="#88b070"/>
<rect x="94.40" y="365.34" width="11.56" height="6.12" fill="#88b070"/>
<rect x="123.30" y="365.34" width="5.78" height="6.12" fill="#88b070"/>
<rect x="210.00" y="365.34" width="5.78" height="6.12" fill="#88b070"/>
<rect x="256.24" y="365.34" width="5.78" height="6.12" fill="#88b070"/>
<rect x="279.36" y="365.34" width="23.12" height="6.12" fill="#88b070"/>
<rect x="308.26" y="365.34" width="23.12" height="6.12" fill="#88b070"/>
<rect x="354.50" y="365.34" width="5.78" height="6.12" fill="#88b070"/>
<rect x="371.84" y="365.34" width="11.56" height="6.12" fill="#88b070"/>
<rect x="394.96" y="365.34" width="11.56" height="6.12" fill="#88b070"/>
<rect x="423.86" y="365.34" width="17.34" height="6.12" fill="#88b070"/>
<rect x="458.54" y="365.34" width="5.78" height="6.12" fill="#88b070"/>
<rect x="470.10" y="365.34" width="5.78" height="6.12" fill="#88b070"/>
<rect x="481.66" y="365.34" width="11.56" height="6.12" fill="#88b070"/>
<rect x="499.00" y="365.34" width="11.56" height="6.12" fill="#88b070"/>
<rect x="522.12" y="365.34" width="11.56" height="6.12" fill="#88b070"/>
<rect x="4.6" y="371.46" width="32.0" height="6.12" fill="#ffe05a"/>
<rect x="42.38" y="371.46" width="5.78" height="6.12" fill="#ffe05a"/>
<rect x="53.94" y="371.46" width="23.12" height="6.12" fill="#ffe05a"/>
<rect x="123.30" y="371.46" width="5.78" height="6.12" fill="#ffe05a"/>
<rect x="152.20" y="371.46" width="11.56" height="6.12" fill="#ffe05a"/>
<rect x="169.54" y="371.46" width="5.78" height="6.12" fill="#ffe05a"/>
<rect x="192.66" y="371.46" width="5.78" height="6.12" fill="#ffe05a"/>
<rect x="210.00" y="371.46" width="5.78" height="6.12" fill="#ffe05a"/>
<rect x="238.90" y="371.46" width="5.78" height="6.12" fill="#ffe05a"/>
<rect x="256.24" y="371.46" width="5.78" height="6.12" fill="#ffe05a"/>
<rect x="279.36" y="371.46" width="23.12" height="6.12" fill="#ffe05a"/>
<rect x="308.26" y="371.46" width="23.12" height="6.12" fill="#ffe05a"/>
<rect x="342.94" y="371.46" width="5.78" height="6.12" fill="#ffe05a"/>
<rect x="366.06" y="371.46" width="17.34" height="6.12" fill="#ffe05a"/>
<rect x="394.96" y="371.46" width="5.78" height="6.12" fill="#ffe05a"/>
<rect x="423.86" y="371.46" width="17.34" height="6.12" fill="#ffe05a"/>
<rect x="458.54" y="371.46" width="5.78" height="6.12" fill="#ffe05a"/>
<rect x="470.10" y="371.46" width="5.78" height="6.12" fill="#ffe05a"/>
<rect x="481.66" y="371.46" width="11.56" height="6.12" fill="#ffe05a"/>
<rect x="499.00" y="371.46" width="11.56" height="6.12" fill="#ffe05a"/>
<rect x="522.12" y="371.46" width="11.56" height="6.12" fill="#ffe05a"/>
<rect x="4.6" y="377.58" width="32.0" height="6.12" fill="#ffc01e"/>
<rect x="42.38" y="377.58" width="5.78" height="6.12" fill="#ffc01e"/>
<rect x="53.94" y="377.58" width="23.12" height="6.12" fill="#ffc01e"/>
<rect x="94.40" y="377.58" width="11.56" height="6.12" fill="#ffc01e"/>
<rect x="123.30" y="377.58" width="5.78" height="6.12" fill="#ffc01e"/>
<rect x="210.00" y="377.58" width="5.78" height="6.12" fill="#ffc01e"/>
<rect x="256.24" y="377.58" width="11.56" height="6.12" fill="#ffc01e"/>
<rect x="279.36" y="377.58" width="23.12" height="6.12" fill="#ffc01e"/>
<rect x="308.26" y="377.58" width="28.90" height="6.12" fill="#ffc01e"/>
<rect x="354.50" y="377.58" width="5.78" height="6.12" fill="#ffc01e"/>
<rect x="366.06" y="377.58" width="17.34" height="6.12" fill="#ffc01e"/>
<rect x="394.96" y="377.58" width="11.56" height="6.12" fill="#ffc01e"/>
<rect x="423.86" y="377.58" width="17.34" height="6.12" fill="#ffc01e"/>
<rect x="458.54" y="377.58" width="5.78" height="6.12" fill="#ffc01e"/>
<rect x="470.10" y="377.58" width="5.78" height="6.12" fill="#ffc01e"/>
<rect x="481.66" y="377.58" width="11.56" height="6.12" fill="#ffc01e"/>
<rect x="499.00" y="377.58" width="11.56" height="6.12" fill="#ffc01e"/>
<rect x="522.12" y="377.58" width="11.56" height="6.12" fill="#ffc01e"/>
<rect x="4.6" y="383.70" width="32.0" height="6.12" fill="#ffa818"/>
<rect x="42.38" y="383.70" width="5.78" height="6.12" fill="#ffa818"/>
<rect x="53.94" y="383.70" width="23.12" height="6.12" fill="#ffa818"/>
<rect x="105.96" y="383.70" width="5.78" height="6.12" fill="#ffa818"/>
<rect x="123.30" y="383.70" width="5.78" height="6.12" fill="#ffa818"/>
<rect x="134.86" y="383.70" width="5.78" height="6.12" fill="#ffa818"/>
<rect x="146.42" y="383.70" width="5.78" height="6.12" fill="#ffa818"/>
<rect x="186.88" y="383.70" width="5.78" height="6.12" fill="#ffa818"/>
<rect x="210.00" y="383.70" width="5.78" height="6.12" fill="#ffa818"/>
<rect x="233.12" y="383.70" width="5.78" height="6.12" fill="#ffa818"/>
<rect x="256.24" y="383.70" width="11.56" height="6.12" fill="#ffa818"/>
<rect x="273.58" y="383.70" width="28.90" height="6.12" fill="#ffa818"/>
<rect x="308.26" y="383.70" width="23.12" height="6.12" fill="#ffa818"/>
<rect x="337.16" y="383.70" width="11.56" height="6.12" fill="#ffa818"/>
<rect x="366.06" y="383.70" width="17.34" height="6.12" fill="#ffa818"/>
<rect x="394.96" y="383.70" width="17.34" height="6.12" fill="#ffa818"/>
<rect x="423.86" y="383.70" width="17.34" height="6.12" fill="#ffa818"/>
<rect x="458.54" y="383.70" width="5.78" height="6.12" fill="#ffa818"/>
<rect x="470.10" y="383.70" width="5.78" height="6.12" fill="#ffa818"/>
<rect x="481.66" y="383.70" width="11.56" height="6.12" fill="#ffa818"/>
<rect x="499.00" y="383.70" width="11.56" height="6.12" fill="#ffa818"/>
<rect x="522.12" y="383.70" width="11.56" height="6.12" fill="#ffa818"/>
<rect x="4.6" y="389.82" width="32.0" height="6.12" fill="#ff5838"/>
<rect x="42.38" y="389.82" width="5.78" height="6.12" fill="#ff5838"/>
<rect x="53.94" y="389.82" width="23.12" height="6.12" fill="#ff5838"/>
<rect x="105.96" y="389.82" width="5.78" height="6.12" fill="#ff5838"/>
<rect x="123.30" y="389.82" width="5.78" height="6.12" fill="#ff5838"/>
<rect x="134.86" y="389.82" width="5.78" height="6.12" fill="#ff5838"/>
<rect x="146.42" y="389.82" width="5.78" height="6.12" fill="#ff5838"/>
<rect x="186.88" y="389.82" width="5.78" height="6.12" fill="#ff5838"/>
<rect x="210.00" y="389.82" width="5.78" height="6.12" fill="#ff5838"/>
<rect x="233.12" y="389.82" width="5.78" height="6.12" fill="#ff5838"/>
<rect x="256.24" y="389.82" width="11.56" height="6.12" fill="#ff5838"/>
<rect x="273.58" y="389.82" width="28.90" height="6.12" fill="#ff5838"/>
<rect x="308.26" y="389.82" width="23.12" height="6.12" fill="#ff5838"/>
<rect x="337.16" y="389.82" width="11.56" height="6.12" fill="#ff5838"/>
<rect x="366.06" y="389.82" width="17.34" height="6.12" fill="#ff5838"/>
<rect x="394.96" y="389.82" width="17.34" height="6.12" fill="#ff5838"/>
<rect x="423.86" y="389.82" width="17.34" height="6.12" fill="#ff5838"/>
<rect x="458.54" y="389.82" width="5.78" height="6.12" fill="#ff5838"/>
<rect x="470.10" y="389.82" width="5.78" height="6.12" fill="#ff5838"/>
<rect x="481.66" y="389.82" width="11.56" height="6.12" fill="#ff5838"/>
<rect x="499.00" y="389.82" width="11.56" height="6.12" fill="#ff5838"/>
<rect x="522.12" y="389.82" width="11.56" height="6.12" fill="#ff5838"/>
<rect x="4.6" y="395.94" width="32.0" height="6.12" fill="#ff5a20"/>
<rect x="42.38" y="395.94" width="5.78" height="6.12" fill="#ff5a20"/>
<rect x="53.94" y="395.94" width="23.12" height="6.12" fill="#ff5a20"/>
<rect x="105.96" y="395.94" width="5.78" height="6.12" fill="#ff5a20"/>
<rect x="123.30" y="395.94" width="5.78" height="6.12" fill="#ff5a20"/>
<rect x="134.86" y="395.94" width="5.78" height="6.12" fill="#ff5a20"/>
<rect x="146.42" y="395.94" width="5.78" height="6.12" fill="#ff5a20"/>
<rect x="181.10" y="395.94" width="11.56" height="6.12" fill="#ff5a20"/>
<rect x="210.00" y="395.94" width="5.78" height="6.12" fill="#ff5a20"/>
<rect x="233.12" y="395.94" width="5.78" height="6.12" fill="#ff5a20"/>
<rect x="256.24" y="395.94" width="11.56" height="6.12" fill="#ff5a20"/>
<rect x="273.58" y="395.94" width="28.90" height="6.12" fill="#ff5a20"/>
<rect x="308.26" y="395.94" width="23.12" height="6.12" fill="#ff5a20"/>
<rect x="337.16" y="395.94" width="11.56" height="6.12" fill="#ff5a20"/>
<rect x="366.06" y="395.94" width="17.34" height="6.12" fill="#ff5a20"/>
<rect x="394.96" y="395.94" width="17.34" height="6.12" fill="#ff5a20"/>
<rect x="423.86" y="395.94" width="17.34" height="6.12" fill="#ff5a20"/>
<rect x="458.54" y="395.94" width="5.78" height="6.12" fill="#ff5a20"/>
<rect x="470.10" y="395.94" width="5.78" height="6.12" fill="#ff5a20"/>
<rect x="481.66" y="395.94" width="11.56" height="6.12" fill="#ff5a20"/>
<rect x="499.00" y="395.94" width="11.56" height="6.12" fill="#ff5a20"/>
<rect x="522.12" y="395.94" width="11.56" height="6.12" fill="#ff5a20"/>
<rect x="4.6" y="402.06" width="32.0" height="6.12" fill="#ff3030"/>
<rect x="42.38" y="402.06" width="5.78" height="6.12" fill="#ff3030"/>
<rect x="53.94" y="402.06" width="23.12" height="6.12" fill="#ff3030"/>
<rect x="82.84" y="402.06" width="5.78" height="6.12" fill="#ff3030"/>
<rect x="105.96" y="402.06" width="5.78" height="6.12" fill="#ff3030"/>
<rect x="123.30" y="402.06" width="5.78" height="6.12" fill="#ff3030"/>
<rect x="134.86" y="402.06" width="5.78" height="6.12" fill="#ff3030"/>
<rect x="146.42" y="402.06" width="5.78" height="6.12" fill="#ff3030"/>
<rect x="186.88" y="402.06" width="5.78" height="6.12" fill="#ff3030"/>
<rect x="210.00" y="402.06" width="5.78" height="6.12" fill="#ff3030"/>
<rect x="233.12" y="402.06" width="5.78" height="6.12" fill="#ff3030"/>
<rect x="256.24" y="402.06" width="11.56" height="6.12" fill="#ff3030"/>
<rect x="273.58" y="402.06" width="28.90" height="6.12" fill="#ff3030"/>
<rect x="308.26" y="402.06" width="23.12" height="6.12" fill="#ff3030"/>
<rect x="337.16" y="402.06" width="11.56" height="6.12" fill="#ff3030"/>
<rect x="360.28" y="402.06" width="23.12" height="6.12" fill="#ff3030"/>
<rect x="394.96" y="402.06" width="17.34" height="6.12" fill="#ff3030"/>
<rect x="423.86" y="402.06" width="17.34" height="6.12" fill="#ff3030"/>
<rect x="458.54" y="402.06" width="5.78" height="6.12" fill="#ff3030"/>
<rect x="470.10" y="402.06" width="5.78" height="6.12" fill="#ff3030"/>
<rect x="481.66" y="402.06" width="11.56" height="6.12" fill="#ff3030"/>
<rect x="499.00" y="402.06" width="11.56" height="6.12" fill="#ff3030"/>
<rect x="522.12" y="402.06" width="11.56" height="6.12" fill="#ff3030"/>
<rect x="4.6" y="408.18" width="32.0" height="6.12" fill="#ff2828"/>
<rect x="42.38" y="408.18" width="5.78" height="6.12" fill="#ff2828"/>
<rect x="53.94" y="408.18" width="23.12" height="6.12" fill="#ff2828"/>
<rect x="105.96" y="408.18" width="5.78" height="6.12" fill="#ff2828"/>
<rect x="123.30" y="408.18" width="5.78" height="6.12" fill="#ff2828"/>
<rect x="134.86" y="408.18" width="5.78" height="6.12" fill="#ff2828"/>
<rect x="146.42" y="408.18" width="5.78" height="6.12" fill="#ff2828"/>
<rect x="186.88" y="408.18" width="5.78" height="6.12" fill="#ff2828"/>
<rect x="210.00" y="408.18" width="5.78" height="6.12" fill="#ff2828"/>
<rect x="233.12" y="408.18" width="5.78" height="6.12" fill="#ff2828"/>
<rect x="256.24" y="408.18" width="11.56" height="6.12" fill="#ff2828"/>
<rect x="273.58" y="408.18" width="28.90" height="6.12" fill="#ff2828"/>
<rect x="308.26" y="408.18" width="23.12" height="6.12" fill="#ff2828"/>
<rect x="337.16" y="408.18" width="11.56" height="6.12" fill="#ff2828"/>
<rect x="360.28" y="408.18" width="23.12" height="6.12" fill="#ff2828"/>
<rect x="394.96" y="408.18" width="17.34" height="6.12" fill="#ff2828"/>
<rect x="423.86" y="408.18" width="17.34" height="6.12" fill="#ff2828"/>
<rect x="458.54" y="408.18" width="5.78" height="6.12" fill="#ff2828"/>
<rect x="470.10" y="408.18" width="5.78" height="6.12" fill="#ff2828"/>
<rect x="481.66" y="408.18" width="28.90" height="6.12" fill="#ff2828"/>
<rect x="522.12" y="408.18" width="11.56" height="6.12" fill="#ff2828"/>
<rect x="4.6" y="414.30" width="32.0" height="6.12" fill="#f82020"/>
<rect x="36.60" y="414.30" width="46.24" height="6.12" fill="#f82020"/>
<rect x="94.40" y="414.30" width="11.56" height="6.12" fill="#f82020"/>
<rect x="117.52" y="414.30" width="11.56" height="6.12" fill="#f82020"/>
<rect x="134.86" y="414.30" width="5.78" height="6.12" fill="#f82020"/>
<rect x="169.54" y="414.30" width="11.56" height="6.12" fill="#f82020"/>
<rect x="198.44" y="414.30" width="17.34" height="6.12" fill="#f82020"/>
<rect x="221.56" y="414.30" width="11.56" height="6.12" fill="#f82020"/>
<rect x="244.68" y="414.30" width="17.34" height="6.12" fill="#f82020"/>
<rect x="267.80" y="414.30" width="5.78" height="6.12" fill="#f82020"/>
<rect x="279.36" y="414.30" width="52.02" height="6.12" fill="#f82020"/>
<rect x="337.16" y="414.30" width="23.12" height="6.12" fill="#f82020"/>
<rect x="366.06" y="414.30" width="40.46" height="6.12" fill="#f82020"/>
<rect x="423.86" y="414.30" width="17.34" height="6.12" fill="#f82020"/>
<rect x="446.98" y="414.30" width="46.24" height="6.12" fill="#f82020"/>
<rect x="499.00" y="414.30" width="11.56" height="6.12" fill="#f82020"/>
<rect x="516.34" y="414.30" width="17.34" height="6.12" fill="#f82020"/>
<rect x="539.46" y="414.30" width="5.78" height="6.12" fill="#f82020"/>
</g>
<g stroke="#000" stroke-width="0.5" fill="none">
<line x1="42.38" x2="42.38" y1="324.8" y2="420.42"/>
<line x1="48.16" x2="48.16" y1="324.8" y2="420.42"/>
<line x1="53.94" x2="53.94" y1="324.8" y2="420.42"/>
<line x1="59.72" x2="59.72" y1="324.8" y2="420.42"/>
<line x1="65.50" x2="65.50" y1="324.8" y2="420.42"/>
<line x1="71.28" x2="71.28" y1="324.8" y2="420.42"/>
<line x1="77.06" x2="77.06" y1="324.8" y2="420.42"/>
<line x1="82.84" x2="82.84" y1="324.8" y2="420.42"/>
<line x1="88.62" x2="88.62" y1="324.8" y2="420.42"/>
<line x1="94.40" x2="94.40" y1="324.8" y2="420.42"/>
<line x1="100.18" x2="100.18" y1="324.8" y2="420.42"/>
<line x1="105.96" x2="105.96" y1="324.8" y2="420.42"/>
<line x1="111.74" x2="111.74" y1="324.8" y2="420.42"/>
<line x1="117.52" x2="117.52" y1="324.8" y2="420.42"/>
<line x1="123.30" x2="123.30" y1="324.8" y2="420.42"/>
<line x1="129.08" x2="129.08" y1="324.8" y2="420.42"/>
<line x1="134.86" x2="134.86" y1="324.8" y2="420.42"/>
<line x1="140.64" x2="140.64" y1="324.8" y2="420.42"/>
<line x1="146.42" x2="146.42" y1="324.8" y2="420.42"/>
<line x1="152.20" x2="152.20" y1="324.8" y2="420.42"/>
<line x1="157.98" x2="157.98" y1="324.8" y2="420.42"/>
<line x1="163.76" x2="163.76" y1="324.8" y2="420.42"/>
<line x1="169.54" x2="169.54" y1="324.8" y2="420.42"/>
<line x1="175.32" x2="175.32" y1="324.8" y2="420.42"/>
<line x1="181.10" x2="181.10" y1="324.8" y2="420.42"/>
<line x1="186.88" x2="186.88" y1="324.8" y2="420.42"/>
<line x1="192.66" x2="192.66" y1="324.8" y2="420.42"/>
<line x1="198.44" x2="198.44" y1="324.8" y2="420.42"/>
<line x1="204.22" x2="204.22" y1="324.8" y2="420.42"/>
<line x1="210.00" x2="210.00" y1="324.8" y2="420.42"/>
<line x1="215.78" x2="215.78" y1="324.8" y2="420.42"/>
<line x1="221.56" x2="221.56" y1="324.8" y2="420.42"/>
<line x1="227.34" x2="227.34" y1="324.8" y2="420.42"/>
<line x1="233.12" x2="233.12" y1="324.8" y2="420.42"/>
<line x1="238.90" x2="238.90" y1="324.8" y2="420.42"/>
<line x1="244.68" x2="244.68" y1="324.8" y2="420.42"/>
<line x1="250.46" x2="250.46" y1="324.8" y2="420.42"/>
<line x1="256.24" x2="256.24" y1="324.8" y2="420.42"/>
<line x1="262.02" x2="262.02" y1="324.8" y2="420.42"/>
<line x1="267.80" x2="267.80" y1="324.8" y2="420.42"/>
<line x1="273.58" x2="273.58" y1="324.8" y2="420.42"/>
<line x1="279.36" x2="279.36" y1="324.8" y2="420.42"/>
<line x1="285.14" x2="285.14" y1="324.8" y2="420.42"/>
<line x1="290.92" x2="290.92" y1="324.8" y2="420.42"/>
<line x1="296.70" x2="296.70" y1="324.8" y2="420.42"/>
<line x1="302.48" x2="302.48" y1="324.8" y2="420.42"/>
<line x1="308.26" x2="308.26" y1="324.8" y2="420.42"/>
<line x1="314.04" x2="314.04" y1="324.8" y2="420.42"/>
<line x1="319.82" x2="319.82" y1="324.8" y2="420.42"/>
<line x1="325.60" x2="325.60" y1="324.8" y2="420.42"/>
<line x1="331.38" x2="331.38" y1="324.8" y2="420.42"/>
<line x1="337.16" x2="337.16" y1="324.8" y2="420.42"/>
<line x1="342.94" x2="342.94" y1="324.8" y2="420.42"/>
<line x1="348.72" x2="348.72" y1="324.8" y2="420.42"/>
<line x1="354.50" x2="354.50" y1="324.8" y2="420.42"/>
<line x1="360.28" x2="360.28" y1="324.8" y2="420.42"/>
<line x1="366.06" x2="366.06" y1="324.8" y2="420.42"/>
<line x1="371.84" x2="371.84" y1="324.8" y2="420.42"/>
<line x1="377.62" x2="377.62" y1="324.8" y2="420.42"/>
<line x1="383.40" x2="383.40" y1="324.8" y2="420.42"/>
<line x1="389.18" x2="389.18" y1="324.8" y2="420.42"/>
<line x1="394.96" x2="394.96" y1="324.8" y2="420.42"/>
<line x1="400.74" x2="400.74" y1="324.8" y2="420.42"/>
<line x1="406.52" x2="406.52" y1="324.8" y2="420.42"/>
<line x1="412.30" x2="412.30" y1="324.8" y2="420.42"/>
<line x1="418.08" x2="418.08" y1="324.8" y2="420.42"/>
<line x1="423.86" x2="423.86" y1="324.8" y2="420.42"/>
<line x1="429.64" x2="429.64" y1="324.8" y2="420.42"/>
<line x1="435.42" x2="435.42" y1="324.8" y2="420.42"/>
<line x1="441.20" x2="441.20" y1="324.8" y2="420.42"/>
<line x1="446.98" x2="446.98" y1="324.8" y2="420.42"/>
<line x1="452.76" x2="452.76" y1="324.8" y2="420.42"/>
<line x1="458.54" x2="458.54" y1="324.8" y2="420.42"/>
<line x1="464.32" x2="464.32" y1="324.8" y2="420.42"/>
<line x1="470.10" x2="470.10" y1="324.8" y2="420.42"/>
<line x1="475.88" x2="475.88" y1="324.8" y2="420.42"/>
<line x1="481.66" x2="481.66" y1="324.8" y2="420.42"/>
<line x1="487.44" x2="487.44" y1="324.8" y2="420.42"/>
<line x1="493.22" x2="493.22" y1="324.8" y2="420.42"/>
<line x1="499.00" x2="499.00" y1="324.8" y2="420.42"/>
<line x1="504.78" x2="504.78" y1="324.8" y2="420.42"/>
<line x1="510.56" x2="510.56" y1="324.8" y2="420.42"/>
<line x1="516.34" x2="516.34" y1="324.8" y2="420.42"/>
<line x1="522.12" x2="522.12" y1="324.8" y2="420.42"/>
<line x1="527.90" x2="527.90" y1="324.8" y2="420.42"/>
<line x1="533.68" x2="533.68" y1="324.8" y2="420.42"/>
<line x1="539.46" x2="539.46" y1="324.8" y2="420.42"/>
<line x1="4.6" x2="545.24" y1="353.10" y2="353.10"/>
<line x1="4.6" x2="545.24" y1="359.22" y2="359.22"/>
<line x1="4.6" x2="545.24" y1="365.34" y2="365.34"/>
<line x1="4.6" x2="545.24" y1="371.46" y2="371.46"/>
<line x1="4.6" x2="545.24" y1="377.58" y2="377.58"/>
<line x1="4.6" x2="545.24" y1="383.70" y2="383.70"/>
<line x1="4.6" x2="545.24" y1="389.82" y2="389.82"/>
<line x1="4.6" x2="545.24" y1="395.94" y2="395.94"/>
<line x1="4.6" x2="545.24" y1="402.06" y2="402.06"/>
<line x1="4.6" x2="545.24" y1="408.18" y2="408.18"/>
<line x1="4.6" x2="545.24" y1="414.30" y2="414.30"/>
<line x1="36.6" x2="545.24" y1="324.8" y2="324.8"/>
</g>
<g stroke="#222" stroke-width="0.6" fill="none">
<rect x="4.6" y="319.45" width="540.64" height="100.97"/>
<line x1="36.60" x2="36.60" y1="319.45" y2="420.42"/>
<line x1="250.46" x2="250.46" y1="319.45" y2="324.80"/>
<line x1="441.20" x2="441.20" y1="319.45" y2="324.80"/>
<line x1="516.34" x2="516.34" y1="319.45" y2="324.80"/>
<line x1="539.46" x2="539.46" y1="319.45" y2="324.80"/>
</g>
<text x="143.53" y="323.80" font-size="4.6" font-weight="bold" text-anchor="middle" fill="#111" stroke="#111">NTD</text>
<text x="345.83" y="323.80" font-size="4.6" font-weight="bold" text-anchor="middle" fill="#111" stroke="#111">RBD</text>
<text x="478.77" y="323.80" font-size="4.6" font-weight="bold" text-anchor="middle" fill="#111" stroke="#111">CTD</text>
<text x="527.90" y="323.80" font-size="4.6" font-weight="bold" text-anchor="middle" fill="#111" stroke="#111">HR1</text>
<g class="t" font-size="4.4" font-weight="bold" fill="#111" stroke="#111" stroke-width="0.14" text-anchor="middle">
<text transform="translate(40.59,338.95) rotate(-90)">ins16MPLF</text>
<text transform="translate(46.37,338.95) rotate(-90)">T19I</text>
<text transform="translate(52.15,338.95) rotate(-90)">R21T</text>
<text transform="translate(57.93,338.95) rotate(-90)">L24del</text>
<text transform="translate(63.71,338.95) rotate(-90)">P25del</text>
<text transform="translate(69.49,338.95) rotate(-90)">P26del</text>
<text transform="translate(75.27,338.95) rotate(-90)">A27S</text>
<text transform="translate(81.05,338.95) rotate(-90)">S50L</text>
<text transform="translate(86.83,338.95) rotate(-90)">Q52H</text>
<text transform="translate(92.61,338.95) rotate(-90)">A67V</text>
<text transform="translate(98.39,338.95) rotate(-90)">H69del</text>
<text transform="translate(104.17,338.95) rotate(-90)">V70del</text>
<text transform="translate(109.95,338.95) rotate(-90)">V83A</text>
<text transform="translate(115.73,338.95) rotate(-90)">T95I</text>
<text transform="translate(121.51,338.95) rotate(-90)">V127F</text>
<text transform="translate(127.29,338.95) rotate(-90)">G142D</text>
<text transform="translate(133.07,338.95) rotate(-90)">V143del</text>
<text transform="translate(138.85,338.95) rotate(-90)">Y144del</text>
<text transform="translate(144.63,338.95) rotate(-90)">Y145del</text>
<text transform="translate(150.41,338.95) rotate(-90)">H146Q</text>
<text transform="translate(156.19,338.95) rotate(-90)">K147E</text>
<text transform="translate(161.97,338.95) rotate(-90)">W152R</text>
<text transform="translate(167.75,338.95) rotate(-90)">E156G</text>
<text transform="translate(173.53,338.95) rotate(-90)">F157L</text>
<text transform="translate(179.31,338.95) rotate(-90)">R158G</text>
<text transform="translate(185.09,338.95) rotate(-90)">E180V</text>
<text transform="translate(190.87,338.95) rotate(-90)">Q183E</text>
<text transform="translate(196.65,338.95) rotate(-90)">I210</text>
<text transform="translate(202.43,338.95) rotate(-90)">N211del</text>
<text transform="translate(208.21,338.95) rotate(-90)">L212I</text>
<text transform="translate(213.99,338.95) rotate(-90)">V213G</text>
<text transform="translate(219.77,338.95) rotate(-90)">ins214</text>
<text transform="translate(225.55,338.95) rotate(-90)">L216F</text>
<text transform="translate(231.33,338.95) rotate(-90)">H245N</text>
<text transform="translate(237.11,338.95) rotate(-90)">G252V</text>
<text transform="translate(242.89,338.95) rotate(-90)">G257S</text>
<text transform="translate(248.67,338.95) rotate(-90)">A264D</text>
<text transform="translate(254.45,338.95) rotate(-90)">I332V</text>
<text transform="translate(260.23,338.95) rotate(-90)">G339D</text>
<text transform="translate(266.01,338.95) rotate(-90)">R346T</text>
<text transform="translate(271.79,338.95) rotate(-90)">K356T</text>
<text transform="translate(277.57,338.95) rotate(-90)">L368I</text>
<text transform="translate(283.35,338.95) rotate(-90)">S371F</text>
<text transform="translate(289.13,338.95) rotate(-90)">S373P</text>
<text transform="translate(294.91,338.95) rotate(-90)">S375F</text>
<text transform="translate(300.69,338.95) rotate(-90)">T376A</text>
<text transform="translate(306.47,338.95) rotate(-90)">R403K</text>
<text transform="translate(312.25,338.95) rotate(-90)">D405N</text>
<text transform="translate(318.03,338.95) rotate(-90)">R408S</text>
<text transform="translate(323.81,338.95) rotate(-90)">K417N</text>
<text transform="translate(329.59,338.95) rotate(-90)">N440K</text>
<text transform="translate(335.37,338.95) rotate(-90)">K444T</text>
<text transform="translate(341.15,338.95) rotate(-90)">V445P</text>
<text transform="translate(346.93,338.95) rotate(-90)">G446S</text>
<text transform="translate(352.71,338.95) rotate(-90)">N450D</text>
<text transform="translate(358.49,338.95) rotate(-90)">L452R</text>
<text transform="translate(364.27,338.95) rotate(-90)">F456L</text>
<text transform="translate(370.05,338.95) rotate(-90)">N460K</text>
<text transform="translate(375.83,338.95) rotate(-90)">S477N</text>
<text transform="translate(381.61,338.95) rotate(-90)">T478</text>
<text transform="translate(387.39,338.95) rotate(-90)">N481K</text>
<text transform="translate(393.17,338.95) rotate(-90)">V483del</text>
<text transform="translate(398.95,338.95) rotate(-90)">E484A</text>
<text transform="translate(404.73,338.95) rotate(-90)">F486V</text>
<text transform="translate(410.51,338.95) rotate(-90)">F490S</text>
<text transform="translate(416.29,338.95) rotate(-90)">Q493R</text>
<text transform="translate(422.07,338.95) rotate(-90)">G496S</text>
<text transform="translate(427.85,338.95) rotate(-90)">Q498R</text>
<text transform="translate(433.63,338.95) rotate(-90)">N501Y</text>
<text transform="translate(439.41,338.95) rotate(-90)">Y505H</text>
<text transform="translate(445.19,338.95) rotate(-90)">T547K</text>
<text transform="translate(450.97,338.95) rotate(-90)">E554K</text>
<text transform="translate(456.75,338.95) rotate(-90)">A570V</text>
<text transform="translate(462.53,338.95) rotate(-90)">D614G</text>
<text transform="translate(468.31,338.95) rotate(-90)">P621S</text>
<text transform="translate(474.09,338.95) rotate(-90)">H655Y</text>
<text transform="translate(479.87,338.95) rotate(-90)">I670V</text>
<text transform="translate(485.65,338.95) rotate(-90)">N679K</text>
<text transform="translate(491.43,338.95) rotate(-90)">P681H</text>
<text transform="translate(497.21,338.95) rotate(-90)">A701V</text>
<text transform="translate(502.99,338.95) rotate(-90)">N764K</text>
<text transform="translate(508.77,338.95) rotate(-90)">D796Y</text>
<text transform="translate(514.55,338.95) rotate(-90)">N856K</text>
<text transform="translate(520.33,338.95) rotate(-90)">S939F</text>
<text transform="translate(526.11,338.95) rotate(-90)">Q954H</text>
<text transform="translate(531.89,338.95) rotate(-90)">N969K</text>
<text transform="translate(537.67,338.95) rotate(-90)">L981F</text>
<text transform="translate(543.45,338.95) rotate(-90)">P1143L</text>
</g>
<g class="t" font-size="4.8" font-weight="bold" fill="#111" stroke="#111" stroke-width="0.12" text-anchor="middle">
<text x="20.60" y="357.86">BA.1</text>
<text x="20.60" y="363.98">BA.2</text>
<text x="20.60" y="370.10">BA.4/5</text>
<text x="20.60" y="376.22">BA.2.75</text>
<text x="20.60" y="382.34">BQ.1.1</text>
<text x="20.60" y="388.46">XBB</text>
<text x="20.60" y="394.58">XBB.1.5</text>
<text x="20.60" y="400.70">XBB.1.16</text>
<text x="20.60" y="406.82">EG.5.1</text>
<text x="20.60" y="412.94">FL.1.5.1</text>
<text x="20.60" y="419.06">BA.2.86</text>
</g>
<g font-size="4.6" font-weight="bold" text-anchor="middle" stroke-width="0.05">
<text x="172.43" y="376.17" fill="#fff" stroke="#fff">L</text>
<text x="172.43" y="419.01" fill="#300" stroke="#300">S</text>
<text x="195.55" y="376.17" fill="#320" stroke="#320">V</text>
<text x="259.13" y="357.81" fill="#fff" stroke="#fff">D</text>
<text x="259.13" y="363.93" fill="#fff" stroke="#fff">D</text>
<text x="259.13" y="370.05" fill="#fff" stroke="#fff">D</text>
<text x="259.13" y="382.29" fill="#fff" stroke="#fff">D</text>
<text x="259.13" y="376.17" fill="#300" stroke="#300">H</text>
<text x="259.13" y="388.41" fill="#300" stroke="#300">H</text>
<text x="259.13" y="394.53" fill="#300" stroke="#300">H</text>
<text x="259.13" y="400.65" fill="#300" stroke="#300">H</text>
<text x="259.13" y="406.77" fill="#300" stroke="#300">H</text>
<text x="259.13" y="412.89" fill="#300" stroke="#300">H</text>
<text x="259.13" y="419.01" fill="#300" stroke="#300">H</text>
<text x="340.05" y="388.41" fill="#fff" stroke="#fff">P</text>
<text x="340.05" y="394.53" fill="#fff" stroke="#fff">P</text>
<text x="340.05" y="400.65" fill="#fff" stroke="#fff">P</text>
<text x="340.05" y="406.77" fill="#fff" stroke="#fff">P</text>
<text x="340.05" y="412.89" fill="#fff" stroke="#fff">P</text>
<text x="340.05" y="419.01" fill="#300" stroke="#300">H</text>
<text x="357.39" y="370.05" fill="#fff" stroke="#fff">R</text>
<text x="357.39" y="382.29" fill="#fff" stroke="#fff">R</text>
<text x="357.39" y="419.01" fill="#300" stroke="#300">W</text>
<text x="380.51" y="357.81" fill="#fff" stroke="#fff">K</text>
<text x="380.51" y="363.93" fill="#fff" stroke="#fff">K</text>
<text x="380.51" y="370.05" fill="#fff" stroke="#fff">K</text>
<text x="380.51" y="376.17" fill="#fff" stroke="#fff">K</text>
<text x="380.51" y="382.29" fill="#fff" stroke="#fff">K</text>
<text x="380.51" y="388.41" fill="#fff" stroke="#fff">K</text>
<text x="380.51" y="394.53" fill="#fff" stroke="#fff">K</text>
<text x="380.51" y="400.65" fill="#300" stroke="#300">R</text>
<text x="380.51" y="406.77" fill="#fff" stroke="#fff">K</text>
<text x="380.51" y="412.89" fill="#300" stroke="#300">R</text>
<text x="380.51" y="419.01" fill="#fff" stroke="#fff">K</text>
<text x="397.85" y="357.81" fill="#fff" stroke="#fff">A</text>
<text x="397.85" y="363.93" fill="#fff" stroke="#fff">A</text>
<text x="397.85" y="370.05" fill="#fff" stroke="#fff">A</text>
<text x="397.85" y="376.17" fill="#fff" stroke="#fff">A</text>
<text x="397.85" y="382.29" fill="#fff" stroke="#fff">A</text>
<text x="397.85" y="388.41" fill="#fff" stroke="#fff">A</text>
<text x="397.85" y="394.53" fill="#fff" stroke="#fff">A</text>
<text x="397.85" y="400.65" fill="#fff" stroke="#fff">A</text>
<text x="397.85" y="406.77" fill="#fff" stroke="#fff">A</text>
<text x="397.85" y="412.89" fill="#fff" stroke="#fff">A</text>
<text x="397.85" y="419.01" fill="#300" stroke="#300">K</text>
<text x="403.63" y="370.05" fill="#fff" stroke="#fff">V</text>
<text x="403.63" y="382.29" fill="#fff" stroke="#fff">V</text>
<text x="403.63" y="388.41" fill="#300" stroke="#300">S</text>
<text x="403.63" y="394.53" fill="#300" stroke="#300">P</text>
<text x="403.63" y="400.65" fill="#300" stroke="#300">P</text>
<text x="403.63" y="406.77" fill="#300" stroke="#300">P</text>
<text x="403.63" y="412.89" fill="#300" stroke="#300">P</text>
<text x="403.63" y="419.01" fill="#300" stroke="#300">P</text>
<text x="490.33" y="357.81" fill="#fff" stroke="#fff">H</text>
<text x="490.33" y="363.93" fill="#fff" stroke="#fff">H</text>
<text x="490.33" y="370.05" fill="#fff" stroke="#fff">H</text>
<text x="490.33" y="376.17" fill="#fff" stroke="#fff">H</text>
<text x="490.33" y="382.29" fill="#fff" stroke="#fff">H</text>
<text x="490.33" y="388.41" fill="#fff" stroke="#fff">H</text>
<text x="490.33" y="394.53" fill="#fff" stroke="#fff">H</text>
<text x="490.33" y="400.65" fill="#fff" stroke="#fff">H</text>
<text x="490.33" y="406.77" fill="#fff" stroke="#fff">H</text>
<text x="490.33" y="412.89" fill="#fff" stroke="#fff">H</text>
<text x="490.33" y="419.01" fill="#300" stroke="#300">R</text>
</g>
</svg>
</body></html>
